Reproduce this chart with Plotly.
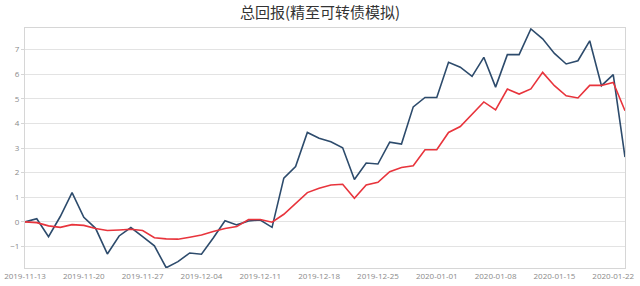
import plotly.graph_objects as go

dates = ["2019-11-13","2019-11-14","2019-11-15","2019-11-18","2019-11-19","2019-11-20","2019-11-21","2019-11-22",
         "2019-11-25","2019-11-26","2019-11-27","2019-11-28","2019-11-29","2019-12-02","2019-12-03","2019-12-04",
         "2019-12-05","2019-12-06","2019-12-09","2019-12-10","2019-12-11","2019-12-12","2019-12-13","2019-12-16",
         "2019-12-17","2019-12-18","2019-12-19","2019-12-20","2019-12-23","2019-12-24","2019-12-25","2019-12-26",
         "2019-12-27","2019-12-30","2019-12-31","2020-01-01","2020-01-02","2020-01-03","2020-01-06","2020-01-07",
         "2020-01-08","2020-01-09","2020-01-10","2020-01-13","2020-01-14","2020-01-15","2020-01-16","2020-01-17",
         "2020-01-20","2020-01-21","2020-01-22","2020-01-23"]

blue = [0, 0.13, -0.6, 0.22, 1.19, 0.19, -0.26, -1.3, -0.57, -0.23,
        -0.6, -0.97, -1.86, -1.61, -1.26, -1.31, -0.65, 0.05, -0.12, 0.04,
        0.08, -0.22, 1.78, 2.25, 3.63, 3.4, 3.25, 3.01, 1.72, 2.39,
        2.35, 3.24, 3.16, 4.67, 5.05, 5.05, 6.48, 6.28, 5.91, 6.68,
        5.47, 6.79, 6.79, 7.83, 7.43, 6.84, 6.41, 6.54, 7.35, 5.53,
        5.98, 2.63]

red = [0, -0.03, -0.16, -0.22, -0.11, -0.14, -0.27, -0.35, -0.33, -0.3,
       -0.35, -0.64, -0.69, -0.7, -0.62, -0.53, -0.39, -0.27, -0.19, 0.1,
       0.1, -0.01, 0.31, 0.73, 1.19, 1.37, 1.5, 1.53, 0.96, 1.5,
       1.61, 2.04, 2.21, 2.28, 2.93, 2.93, 3.63, 3.87, 4.35, 4.87,
       4.55, 5.39, 5.19, 5.4, 6.07, 5.53, 5.12, 5.03, 5.54, 5.54,
       5.66, 4.51]

title = "总回报(精至可转债模拟)"
tick_dates = dates[::5]

fig = go.Figure()
fig.add_trace(go.Scatter(x=dates, y=blue, mode="lines",
                         line=dict(color="#2d4b6c", width=1.6), showlegend=False))
fig.add_trace(go.Scatter(x=dates, y=red, mode="lines",
                         line=dict(color="#e8343c", width=1.6), showlegend=False))

ymin = min(min(blue), min(red))
ymax = max(max(blue), max(red))

fig.update_layout(
    width=640, height=286,
    margin=dict(l=25, r=15, t=28, b=18, autoexpand=False),
    paper_bgcolor="white", plot_bgcolor="white",
    title=dict(text=title, x=0.5, xanchor="center", y=0.955, yanchor="middle",
               font=dict(family="Noto Sans CJK SC", size=15, color="#333333")),
    font=dict(family="Open Sans", size=8, color="#8a8a8a"),
)
fig.update_xaxes(type="category", range=[0, len(dates) - 1], automargin=False,
                 tickmode="array", tickvals=tick_dates, ticktext=tick_dates,
                 showgrid=False, showline=True, linecolor="#d6d6d6", mirror=True,
                 ticks="", tickfont=dict(size=8, color="#8a8a8a"), zeroline=False)
fig.update_yaxes(range=[ymin - 0.01, ymax + 0.04], dtick=1, tick0=0, automargin=False,
                 showgrid=True, gridcolor="#e3e3e3", gridwidth=1,
                 showline=True, linecolor="#d6d6d6", mirror=True,
                 ticks="outside", ticklen=3, tickcolor="#d6d6d6",
                 tickfont=dict(size=8, color="#8a8a8a"), zeroline=False)

fig.write_html("out.html")
